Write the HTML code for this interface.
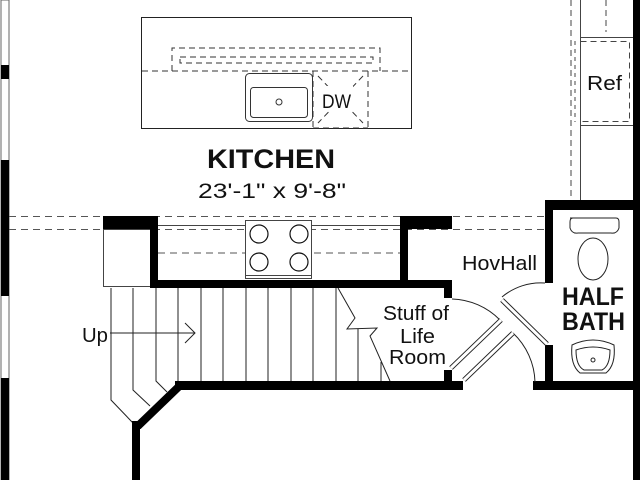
<!DOCTYPE html>
<html><head><style>
html,body{margin:0;padding:0;background:#fff;}
svg{display:block;}
text{font-family:"Liberation Sans",Arial,sans-serif;fill:#111;}
</style></head><body>
<svg width="640" height="480" viewBox="0 0 640 480" xmlns="http://www.w3.org/2000/svg">
<rect width="640" height="480" fill="#fff"/>
<!-- left wall -->
<rect x="1" y="0" width="8" height="480" fill="#fff" stroke="#666" stroke-width="1"/>
<rect x="1" y="65" width="8" height="14" fill="#000"/>
<rect x="1" y="160" width="8" height="136" fill="#000"/>
<rect x="1" y="378" width="8" height="102" fill="#000"/>
<!-- right wall -->
<rect x="633" y="0" width="7" height="480" fill="#000"/>
<!-- island -->
<rect x="141.5" y="17.5" width="270" height="111" fill="none" stroke="#222" stroke-width="1"/>
<g fill="none" stroke="#333" stroke-width="1" stroke-dasharray="6,4">
<line x1="142" y1="71" x2="411" y2="71"/>
<polyline points="172,71 172,48 380,48 380,71"/>
<rect x="180" y="57" width="193" height="6"/>
<line x1="313" y1="71" x2="313" y2="128"/>
<line x1="368" y1="71" x2="368" y2="128"/>
<line x1="313" y1="128" x2="368" y2="128"/>
<line x1="318" y1="76" x2="363" y2="123"/>
<line x1="363" y1="76" x2="318" y2="123"/>
</g>
<rect x="319" y="86" width="34" height="24" fill="#fff"/>
<text x="322" y="108" font-size="19" textLength="29" lengthAdjust="spacingAndGlyphs">DW</text>
<rect x="245.5" y="73.5" width="67" height="48" rx="4" fill="#fff" stroke="#333"/>
<rect x="250.5" y="87.5" width="57" height="30" rx="3" fill="none" stroke="#333"/>
<circle cx="279" cy="102" r="3" fill="none" stroke="#333"/>
<text x="207" y="168" font-size="27" font-weight="bold" textLength="128" lengthAdjust="spacingAndGlyphs">KITCHEN</text>
<text x="198" y="198" font-size="21" textLength="148" lengthAdjust="spacingAndGlyphs">23'-1" x 9'-8"</text>
<!-- right cabinets / ref -->
<g stroke="#444" fill="none">
<line x1="571" y1="0" x2="571" y2="200" stroke-dasharray="6,4"/>
<line x1="580.5" y1="0" x2="580.5" y2="200"/>
<line x1="580" y1="37.5" x2="633" y2="37.5"/>
<line x1="580" y1="125.5" x2="633" y2="125.5"/>
<line x1="606" y1="0" x2="606" y2="32" stroke-dasharray="6,4"/>
<rect x="580.5" y="41.5" width="49" height="80" stroke-dasharray="6,4"/>
<line x1="575" y1="41" x2="575" y2="122" stroke-dasharray="4,4"/>
</g>
<text x="587" y="90" font-size="20" textLength="35" lengthAdjust="spacingAndGlyphs">Ref</text>
<!-- dashed lines across -->
<g stroke="#555" stroke-dasharray="7,5" fill="none">
<line x1="9" y1="216.5" x2="545" y2="216.5"/>
<line x1="9" y1="229.5" x2="545" y2="229.5"/>
<line x1="158" y1="253" x2="400" y2="253"/>
</g>
<!-- walls around cooktop -->
<rect x="103" y="216" width="54" height="13" fill="#000"/>
<rect x="103.5" y="229.5" width="47" height="57" fill="#fff" stroke="#444"/>
<rect x="150" y="216" width="8" height="72" fill="#000"/>
<rect x="150" y="280" width="301" height="8" fill="#000"/>
<rect x="400" y="216" width="52" height="13" fill="#000"/>
<rect x="400" y="216" width="8" height="70" fill="#000"/>
<rect x="444" y="280" width="8" height="18" fill="#000"/>
<line x1="158" y1="225.5" x2="400" y2="225.5" stroke="#444"/>
<!-- cooktop -->
<rect x="245.5" y="220.5" width="66" height="58" fill="#fff" stroke="#444"/>
<line x1="245" y1="275.5" x2="311" y2="275.5" stroke="#444"/>
<g fill="none" stroke="#111" stroke-width="1.2">
<ellipse cx="259" cy="234" rx="9" ry="9"/><ellipse cx="299" cy="234" rx="9" ry="9"/>
<ellipse cx="259" cy="262" rx="9" ry="9"/><ellipse cx="299" cy="262" rx="9" ry="9"/>
</g>
<!-- half bath -->
<rect x="545" y="200" width="95" height="10" fill="#000"/>
<rect x="545" y="200" width="8" height="83" fill="#000"/>
<rect x="545" y="345" width="8" height="40" fill="#000"/>
<rect x="175" y="381" width="288" height="9" fill="#000"/>
<rect x="533" y="381" width="107" height="9" fill="#000"/>
<rect x="444" y="370" width="8" height="13" fill="#000"/>
<path d="M570,218 h46 q3,0 3,4 v6 q-2,6 -8,5 h-33 q-6,1 -8,-5 v-6 q0,-4 3,-4z" fill="#fff" stroke="#222"/>
<ellipse cx="593" cy="259" rx="15" ry="21" fill="#fff" stroke="#222"/>
<text x="562" y="305" font-size="25" font-weight="bold" textLength="62" lengthAdjust="spacingAndGlyphs">HALF</text>
<text x="562" y="330" font-size="25" font-weight="bold" textLength="63" lengthAdjust="spacingAndGlyphs">BATH</text>
<path d="M572,345 q21,-10 42,0 q2,20 -8,28 h-26 q-10,-8 -8,-28z" fill="#fff" stroke="#222"/>
<path d="M576,350 q17,-6 34,0 q0,16 -8,20 h-18 q-8,-4 -8,-20z" fill="none" stroke="#222"/>
<circle cx="593" cy="360" r="2" fill="none" stroke="#222"/>
<!-- doors -->
<g fill="none" stroke="#222">
<path d="M452,299 A70,70 0 0 1 500,320"/>
<path d="M513,333 A70,70 0 0 1 535,382"/>
<path d="M502,297 A60,60 0 0 1 545,283"/>
</g>
<g stroke="#222" stroke-width="5" stroke-linecap="butt"><line x1="451" y1="368" x2="501" y2="320"/><line x1="464" y1="380" x2="513" y2="333"/><line x1="502" y1="300" x2="547" y2="344"/></g>
<g stroke="#fff" stroke-width="3"><line x1="451" y1="368" x2="501" y2="320"/><line x1="464" y1="380" x2="513" y2="333"/><line x1="502" y1="300" x2="547" y2="344"/></g>
<text x="462" y="270" font-size="20" textLength="75" lengthAdjust="spacingAndGlyphs">HovHall</text>
<text x="383" y="320" font-size="20" textLength="66" lengthAdjust="spacingAndGlyphs">Stuff of</text>
<text x="400" y="343" font-size="20" textLength="35" lengthAdjust="spacingAndGlyphs">Life</text>
<text x="389" y="364" font-size="20" textLength="57" lengthAdjust="spacingAndGlyphs">Room</text>
<!-- stairs -->
<g stroke="#222" fill="none" stroke-width="1">
<polyline points="111,288 111,400 133,423"/>
<polyline points="133,288 133,390 150,406"/>
<polyline points="156,288 156,381 167,392"/>
<line x1="178" y1="288" x2="178" y2="381"/>
<line x1="201" y1="288" x2="201" y2="381"/>
<line x1="223" y1="288" x2="223" y2="381"/>
<line x1="246" y1="288" x2="246" y2="381"/>
<line x1="268" y1="288" x2="268" y2="381"/>
<line x1="291" y1="288" x2="291" y2="381"/>
<line x1="313" y1="288" x2="313" y2="381"/>
<line x1="336" y1="288" x2="336" y2="381"/>
<polyline points="338,288 355,318 347,329 377,328 370,336 390,381"/>
<line x1="358" y1="329" x2="358" y2="381"/>
<line x1="381" y1="362" x2="381" y2="381"/>
<line x1="110" y1="333" x2="195" y2="333"/>
<polyline points="185,323 195,333 185,343"/>
</g>
<text x="82" y="342" font-size="20" textLength="26" lengthAdjust="spacingAndGlyphs">Up</text>
<polyline points="180,385.5 139,425 136,425 136,480" fill="none" stroke="#000" stroke-width="8"/>
</svg>
</body></html>
